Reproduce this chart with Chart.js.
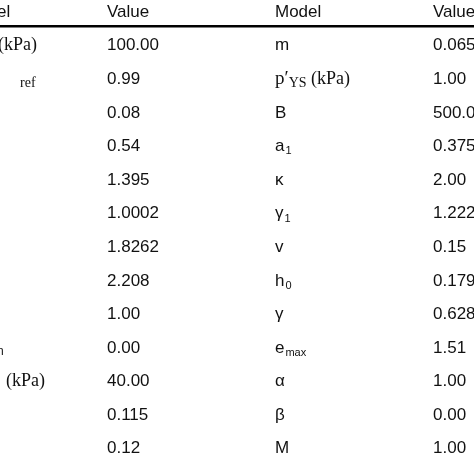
<!DOCTYPE html>
<html>
<head>
<meta charset="utf-8">
<script src="https://cdn.jsdelivr.net/npm/chart.js@4"></script>
<style>
  html, body { margin: 0; padding: 0; background: #fff; }
  #box { width: 474px; height: 474px; }
</style>
</head>
<body>
<div id="box"><canvas id="tabela"></canvas></div>
<script>
// table contents (left half is cropped in the original)
const headers = ["el", "Value", "Model", "Value"];
const leftNames = ["(kPa)", "", "", "", "", "", "", "", "", "", "(kPa)", "", ""];
const leftSubs = ["", "ref", "", "", "", "", "", "", "", "n", "", "", ""];
const leftValues = ["100.00", "0.99", "0.08", "0.54", "1.395", "1.0002", "1.8262", "2.208", "1.00", "0.00", "40.00", "0.115", "0.12"];
const rightNames = ["m", "p\u2032", "B", "a", "\u03ba", "\u03b3", "v", "h", "\u03b3", "e", "\u03b1", "\u03b2", "M"];
const rightSubs = ["", "YS", "", "1", "", "1", "", "0", "", "max", "", "", ""];
const rightValues = ["0.065", "1.00", "500.0", "0.375", "2.00", "1.222", "0.15", "0.179", "0.628", "1.51", "1.00", "0.00", "1.00"];

const rows = leftValues.map((v, i) => i + 1);

const sans = "Liberation Sans, Arial, sans-serif";
const serif = "Liberation Serif, Times New Roman, serif";

const tablePlugin = {
  id: 'tablePlugin',
  afterDatasetsDraw(chart) {
    const ctx = chart.ctx;
    const x = chart.scales.x;
    const y = chart.scales.y;
    ctx.save();
    ctx.fillStyle = '#111';
    ctx.textBaseline = 'middle';

    // header
    const hy = y.getPixelForValue(0);
    ctx.font = '17px ' + sans;
    [[-3, 0], [107, 1], [275, 2], [433, 3]].forEach(([cx, k]) => {
      ctx.fillText(headers[k], x.getPixelForValue(cx), hy);
    });

    // rule under header
    ctx.strokeStyle = '#000';
    ctx.lineWidth = 2.5;
    ctx.beginPath();
    ctx.moveTo(x.getPixelForValue(0), y.getPixelForValue(0.42));
    ctx.lineTo(x.getPixelForValue(474), y.getPixelForValue(0.42));
    ctx.stroke();

    rows.forEach((r, i) => {
      const py = y.getPixelForValue(r);
      // left names (only fragments visible)
      if (leftNames[i]) {
        ctx.font = '18px ' + serif;
        ctx.fillText(leftNames[i], x.getPixelForValue(i === 0 ? -2 : 6), py);
      }
      if (leftSubs[i]) {
        ctx.font = (leftSubs[i] === 'ref' ? '14px ' + serif : '12px ' + sans);
        ctx.fillText(leftSubs[i], x.getPixelForValue(leftSubs[i] === 'ref' ? 20 : -3), py + 4);
      }
      ctx.font = '17px ' + sans;
      ctx.fillText(leftValues[i], x.getPixelForValue(107), py);

      // right names
      const nx = x.getPixelForValue(275);
      if (rightSubs[i] === 'YS') {
        ctx.font = '19px ' + serif;
        ctx.fillText(rightNames[i], nx, py);
        const w = ctx.measureText(rightNames[i]).width;
        ctx.font = '14px ' + serif;
        ctx.fillText('YS', nx + w, py + 4);
        const w2 = ctx.measureText('YS').width;
        ctx.font = '18px ' + serif;
        ctx.fillText(' (kPa)', nx + w + w2, py);
      } else {
        ctx.font = '17px ' + sans;
        ctx.fillText(rightNames[i], nx, py);
        if (rightSubs[i]) {
          const w = ctx.measureText(rightNames[i]).width;
          ctx.font = '11px ' + sans;
          ctx.fillText(rightSubs[i], nx + w + 1, py + 5);
        }
      }
      ctx.font = '17px ' + sans;
      ctx.fillText(rightValues[i], x.getPixelForValue(433), py);
    });
    ctx.restore();
  }
};

new Chart(document.getElementById('tabela'), {
  type: 'scatter',
  data: {
    datasets: [{
      data: rows.map(r => ({ x: 0, y: r })),
      pointRadius: 0
    }]
  },
  options: {
    responsive: true,
    maintainAspectRatio: false,
    animation: false,
    layout: { padding: 0 },
    plugins: { legend: { display: false }, tooltip: { enabled: false } },
    scales: {
      x: { type: 'linear', min: 0, max: 474, display: false },
      y: { type: 'linear', min: -0.36, max: 13.75, reverse: true, display: false }
    }
  },
  plugins: [tablePlugin]
});
</script>
</body>
</html>
